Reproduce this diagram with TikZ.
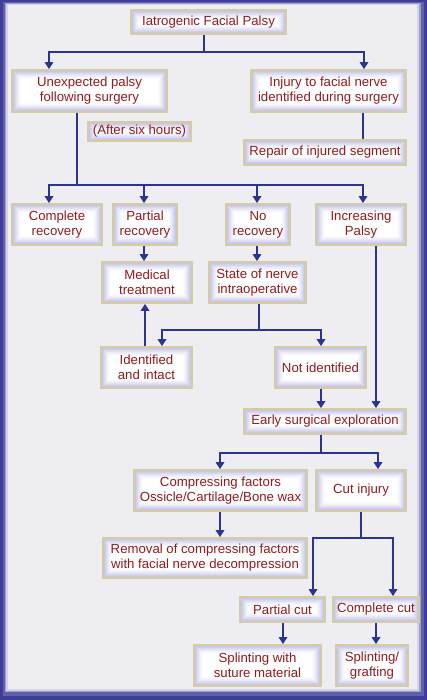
\documentclass[tikz,border=0pt]{standalone}
\usepackage{fontspec}
\setmainfont{Liberation Sans}
\usetikzlibrary{arrows.meta}
\definecolor{framec}{RGB}{62,62,152}
\definecolor{bgc}{RGB}{237,237,242}
\definecolor{tanc}{RGB}{214,204,158}
\definecolor{lavc}{RGB}{190,190,230}
\definecolor{arrc}{RGB}{43,52,146}
\definecolor{txtc}{RGB}{147,27,31}
\tikzset{
  bx/.style={draw=tanc, line width=1.8pt, fill=lavc, inner sep=0pt,
    text=txtc, align=center, font=\fontsize{13.2}{15}\selectfont,
    path picture={
      \foreach \i/\c in {1/88,2/74,3/60,4/46,5/34,6/22,7/12,8/4,9/0}{
        \fill[lavc!\c!white] ([shift={(\i pt,\i pt)}]path picture bounding box.south west)
          rectangle ([shift={(-\i pt,-\i pt)}]path picture bounding box.north east);
      }
    }},
  ln/.style={draw=arrc, line width=1.7pt},
  arr/.style={ln, -{Triangle[length=7pt,width=8.5pt]}}
}
\newcommand{\bxn}[6]{\node[bx, minimum width=#4pt, minimum height=#5pt] (#1) at (#2,#3) {#6};}
\begin{document}
\begin{tikzpicture}[x=1pt,y=-1pt]
\useasboundingbox (0,0) rectangle (427,700);
% frame
\fill[framec] (0,0) rectangle (427,700);
\fill[framec!80!bgc] (3,2) rectangle (424,696);
\fill[framec!45!bgc] (5,3) rectangle (421,692);
\fill[framec!15!bgc] (6,4) rectangle (419,691);
\fill[bgc] (8,5) rectangle (417,689);
% nodes
\bxn{top}{208.5}{22}{155}{24}{Iatrogenic Facial Palsy}
\bxn{unexp}{89.5}{91}{155}{42}{Unexpected palsy\\following surgery}
\bxn{injury}{328.5}{91}{155}{42}{Injury to facial nerve\\identified during surgery}
\bxn{after}{139.5}{131.5}{103}{19}{(After six hours)}
\bxn{repair}{325}{152.5}{162}{25}{Repair of injured segment}
\bxn{complete}{57}{224.5}{90}{41}{Complete\\recovery}
\bxn{partial}{145}{224.5}{64}{41}{Partial\\recovery}
\bxn{norec}{258}{224.5}{64}{41}{No\\recovery}
\bxn{incr}{361}{224.5}{90}{41}{Increasing\\Palsy}
\bxn{medical}{147}{282.5}{90}{41}{Medical\\treatment}
\bxn{state}{257.5}{282.5}{97}{41}{State of nerve\\intraoperative}
\bxn{ident}{146.5}{367.5}{91}{41}{Identified\\and intact}
\bxn{notid}{320.5}{367.5}{91}{41}{Not identified}
\bxn{early}{325}{421.5}{162}{25}{Early surgical exploration}
\bxn{compress}{220.5}{490.5}{173}{41}{Compressing factors\\Ossicle/Cartilage/Bone wax}
\bxn{cut}{361}{490.5}{90}{41}{Cut injury}
\bxn{removal}{205}{558}{204}{40}{Removal of compressing factors\\with facial nerve decompression}
\bxn{pcut}{282.5}{609.5}{85}{25}{Partial cut}
\bxn{ccut}{376}{609.5}{86}{25}{Complete cut}
\bxn{splint}{257.5}{665.5}{127}{41}{Splinting with\\suture material}
\bxn{graft}{372}{665.5}{72}{41}{Splinting/\\grafting}
% junction coordinates
\coordinate (j1) at (204,52);
\coordinate (a1) at (49,52);
\coordinate (a2) at (364,52);
\coordinate (j2) at (77,185);
\coordinate (b1) at (49,185);
\coordinate (b2) at (144,185);
\coordinate (b3) at (257,185);
\coordinate (b4) at (363,185);
\coordinate (j3) at (259,330);
\coordinate (c1) at (162,330);
\coordinate (c2) at (321,330);
\coordinate (j4) at (321,453);
\coordinate (d1) at (220,453);
\coordinate (d2) at (378,453);
\coordinate (j5) at (361,538);
\coordinate (e1) at (313,538);
\coordinate (e2) at (393,538);
% connectors
\draw[arr] (top.south -| j1) -- (j1) -| (unexp.north -| a1);
\draw[arr] (j1) -| (injury.north -| a2);
\draw[ln] (injury.south -| b4) -- (repair.north -| b4);
\draw[arr] (unexp.south -| j2) -- (j2) -| (complete.north -| b1);
\draw[arr] (j2) -| (partial.north -| b2);
\draw[arr] (j2) -| (norec.north -| b3);
\draw[arr] (j2) -| (incr.north -| b4);
\draw[arr] (partial.south -| b2) -- (medical.north -| b2);
\draw[arr] (norec.south -| b3) -- (state.north -| b3);
\draw[arr] (incr.south -| 376,0) -- (early.north -| 376,0);
\draw[arr] (state.south -| j3) -- (j3) -| (ident.north -| c1);
\draw[arr] (j3) -| (notid.north -| c2);
\draw[arr] (ident.north -| 145,0) -- (medical.south -| 145,0);
\draw[arr] (notid.south -| c2) -- (early.north -| c2);
\draw[arr] (early.south -| j4) -- (j4) -| (compress.north -| d1);
\draw[arr] (j4) -| (cut.north -| d2);
\draw[arr] (compress.south -| d1) -- (removal.north -| d1);
\draw[arr] (cut.south -| j5) -- (j5) -| (pcut.north -| e1);
\draw[arr] (j5) -| (ccut.north -| e2);
\draw[arr] (pcut.south -| 283,0) -- (splint.north -| 283,0);
\draw[arr] (ccut.south -| 376,0) -- (graft.north -| 376,0);
\end{tikzpicture}
\end{document}
